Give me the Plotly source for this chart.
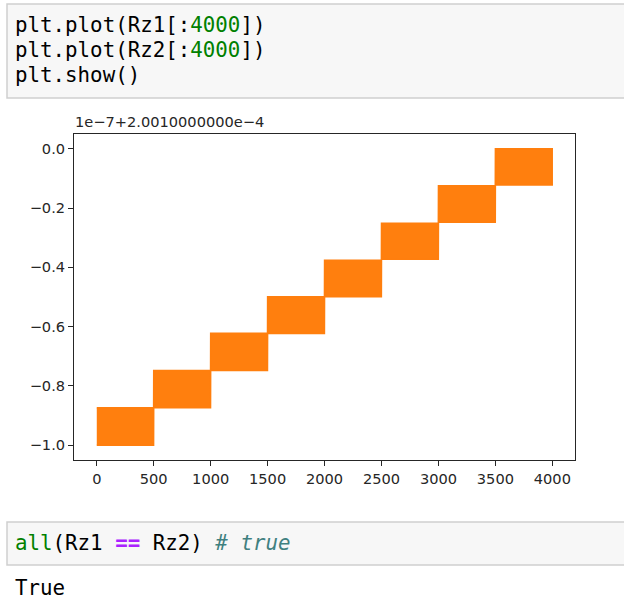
import plotly.graph_objects as go

# step levels (offset units, 1e-7 + 2.0010000000e-4)
step_start = [0, 500, 1000, 1500, 2000, 2500, 3000, 3500]
step_end = [499, 999, 1499, 1999, 2499, 2999, 3499, 3999]
step_high = [-0.874, -0.748, -0.622, -0.499, -0.376, -0.251, -0.125, 0.0]
step_low = [-1.0, -0.874, -0.748, -0.623, -0.499, -0.373, -0.248, -0.122]

x_ticks = [0, 500, 1000, 1500, 2000, 2500, 3000, 3500, 4000]
y_ticks = [0.0, -0.2, -0.4, -0.6, -0.8, -1.0]

W, H = 624, 612


def px(x):
    return x / W


def py(y):
    return 1 - y / H


# band outline: along the tops left to right, then the bottoms back
band_x, band_y = [], []
for s, e, hi in zip(step_start, step_end, step_high):
    band_x += [s, e]
    band_y += [hi, hi]
for s, e, lo in reversed(list(zip(step_start, step_end, step_low))):
    band_x += [e, s]
    band_y += [lo, lo]

fig = go.Figure()
# Rz1 and Rz2 are identical, only the orange Rz2 is visible on top
fig.add_trace(go.Scatter(
    x=band_x, y=band_y, mode="lines", fill="toself",
    fillcolor="#ff7f0e", line=dict(color="#ff7f0e", width=1.5),
    name="Rz2", hoverinfo="skip",
))

axis_col = "#262626"
tick_font = dict(family="DejaVu Sans", size=14.6, color=axis_col)
fig.update_xaxes(
    domain=[px(74), px(575)], range=[-200, 4199], tickvals=x_ticks,
    ticks="outside", ticklen=5, tickcolor=axis_col, tickwidth=1,
    showline=True, linecolor=axis_col, linewidth=1, mirror=True,
    showgrid=False, zeroline=False, tickfont=tick_font,
)
fig.update_yaxes(
    domain=[py(460), py(134)], range=[-1.05, 0.05], tickvals=y_ticks,
    tickformat=".1f",
    ticks="outside", ticklen=5, tickcolor=axis_col, tickwidth=1,
    showline=True, linecolor=axis_col, linewidth=1, mirror=True,
    showgrid=False, zeroline=False, tickfont=tick_font,
)

# notebook cells
cell_fill = "#f7f7f7"
cell_line = "#cfcfcf"
for top, bot in [(4, 98), (522, 565)]:
    fig.add_shape(type="rect", xref="paper", yref="paper",
                  x0=px(7), x1=px(640), y0=py(bot), y1=py(top),
                  fillcolor=cell_fill, line=dict(color=cell_line, width=1.5),
                  layer="below")

mono = dict(family="DejaVu Sans Mono", size=20.8, color="#000000")
num = '<span style="color:#008000">%s</span>'
code_lines = [
    (25, "plt.plot(Rz1[:" + num % "4000" + "])"),
    (50, "plt.plot(Rz2[:" + num % "4000" + "])"),
    (75, "plt.show()"),
    (543, '<span style="color:#008000">all</span>(Rz1 '
          '<b><span style="color:#AA22FF">==</span></b> Rz2) '
          '<i><span style="color:#408080"># true</span></i>'),
    (588, "True"),
]
for y, txt in code_lines:
    fig.add_annotation(text=txt, xref="paper", yref="paper",
                       x=px(13), y=py(y), xanchor="left", yanchor="middle",
                       showarrow=False, font=mono)

# matplotlib offset text above the axes
fig.add_annotation(text="1e\u22127+2.0010000000e\u22124", xref="paper", yref="paper",
                   x=px(73), y=py(132), xanchor="left", yanchor="bottom",
                   showarrow=False, font=tick_font)

fig.update_layout(
    width=W, height=H, margin=dict(l=0, r=0, t=0, b=0),
    paper_bgcolor="white", plot_bgcolor="white", showlegend=False,
)

fig.write_html("out.html", config={"displayModeBar": False},
               post_script="document.body.style.margin='0';")
